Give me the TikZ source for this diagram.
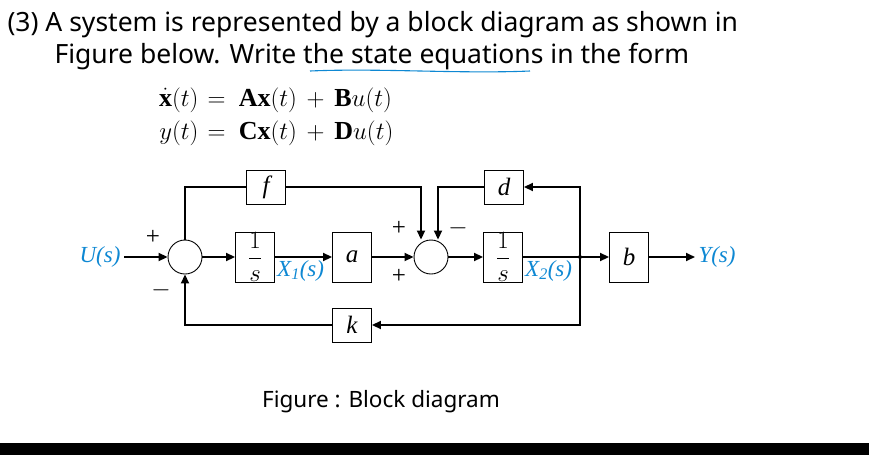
\documentclass[tikz,border=0pt]{standalone}
\usepackage{fontspec}
\setmainfont{Liberation Serif}
\newfontfamily\hdr{Noto Sans}
\usetikzlibrary{arrows.meta}
\begin{document}
\begin{tikzpicture}[x=1pt,y=-1pt,
  blk/.style={draw,line width=0.9pt,minimum width=39pt,minimum height=50pt,inner sep=0pt,font=\fontsize{25}{25}\selectfont\itshape},
  sblk/.style={draw,line width=0.9pt,minimum width=39pt,minimum height=34pt,inner sep=0pt,font=\fontsize{25}{25}\selectfont\itshape},
  sum/.style={draw,circle,line width=0.9pt,minimum size=34pt,inner sep=0pt},
  sig/.style={line width=1.8pt,-{Triangle[length=9pt,width=8pt]}},
  ln/.style={line width=1.8pt},
  lab/.style={font=\fontsize{23}{23}\selectfont\itshape,text=cyan!70!blue},
  pm/.style={font=\fontsize{25}{25}\selectfont}]
\useasboundingbox (0,0) rectangle (869,455);
\fill[black] (0,443) rectangle (869,455);
\node[anchor=west,font=\hdr\fontsize{26.5}{26.5}\selectfont] (l1) at (4,25) {(3) A system is represented by a block diagram as shown in};
\node[anchor=west,font=\hdr\fontsize{26.5}{26.5}\selectfont] (l2) at (51,57) {Figure below. Write the state equations in the form};
\draw[cyan!70!blue,line width=1.1pt] (310,71) .. controls (380,68) and (460,74) .. (530,71);
\node[anchor=east,font=\fontsize{26}{26}\selectfont] (e1l) at (202,100) {$\dot{\mathbf{x}}(t)$};
\node[anchor=west,font=\fontsize{26}{26}\selectfont] (e1r) at (204,100) {$=\ \mathbf{Ax}(t)\,+\,\mathbf{B}u(t)$};
\node[anchor=east,font=\fontsize{26}{26}\selectfont] (e2l) at (202,133) {$y(t)$};
\node[anchor=west,font=\fontsize{26}{26}\selectfont] (e2r) at (204,133) {$=\ \mathbf{Cx}(t)\,+\,\mathbf{D}u(t)$};

\node[lab,anchor=east] (U) at (124,257) {U(s)};
\node[sum] (s1) at (185,257) {};
\node[blk] (i1) at (255,257) {$\displaystyle\frac{1}{s}$};
\node[blk] (a) at (352,257) {a};
\node[sum] (s2) at (431,257) {};
\node[blk] (i2) at (503,257) {$\displaystyle\frac{1}{s}$};
\node[blk] (b) at (629,257) {b};
\node[lab,anchor=west] (Y) at (695,257) {Y(s)};
\node[sblk] (f) at (266,187) {f};
\node[sblk] (d) at (504,187) {d};
\node[sblk] (k) at (352,325) {k};
\coordinate (j) at (580,257);
\fill (j) circle (2pt);

\draw[sig] (U) -- (s1);
\draw[sig] (s1) -- (i1);
\draw[sig] (i1) -- (a);
\draw[sig] (a) -- (s2);
\draw[sig] (s2) -- (i2);
\draw[ln] (i2) -- (j);
\draw[sig] (j) -- (b);
\draw[sig] (b) -- (Y);
\draw[ln] (s1) |- (f);
\draw[sig] (f) -| ([xshift=-10pt]s2.north);
\draw[sig] (j) |- (d);
\draw[sig] (d) -| ([xshift=7pt]s2.north);
\draw[sig] (j) |- (k);
\draw[sig] (k) -| (s1);

\node[lab,anchor=north west,inner sep=1pt] (x1) at (276,259) {X\textsubscript{1}(s)};
\node[lab,anchor=north west,inner sep=1pt] (x2) at (524,259) {X\textsubscript{2}(s)};
\node[pm] (p1) at (153,237) {+};
\node[pm] (m1) at (161,290) {$-$};
\node[pm] (p2) at (399,228) {+};
\node[pm] (m2) at (458,228) {$-$};
\node[pm] (p3) at (399,276) {+};
\node[anchor=center,font=\hdr\fontsize{22.5}{22.5}\selectfont] (cap) at (381,402) {Figure : Block diagram};
\end{tikzpicture}
\end{document}
